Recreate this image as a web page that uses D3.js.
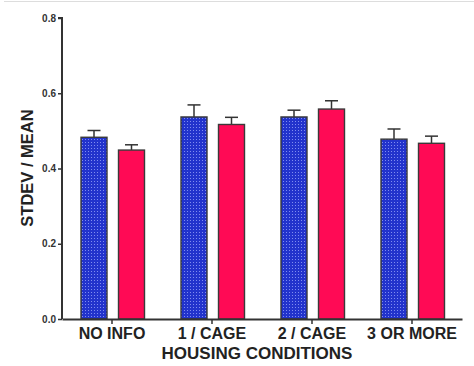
<!DOCTYPE html>
<html lang="en">
<head>
    <meta charset="UTF-8">
    <title>Housing conditions - STDEV / MEAN</title>
    <script src="https://d3js.org/d3.v7.min.js"></script>
    <style>
        body { margin: 0; background: #fff; }
        svg { display: block; font-family: "Liberation Sans", Arial, sans-serif; }
    </style>
</head>
<body>
<div id="chart"></div>
<script>
// data
var categories = ["NO INFO", "1 / CAGE", "2 / CAGE", "3 OR MORE"];
var blueMeans = [0.483, 0.537, 0.537, 0.478];
var blueErr   = [0.018, 0.032, 0.018, 0.027];
var redMeans  = [0.449, 0.517, 0.558, 0.467];
var redErr    = [0.014, 0.019, 0.022, 0.019];
var yTicks = [0.0, 0.2, 0.4, 0.6, 0.8];

var width = 474, height = 366;
var margin = {top: 18, right: 12, bottom: 47, left: 62};

var svg = d3.select("#chart").append("svg")
    .attr("width", width)
    .attr("height", height);

// dotted blue fill
var defs = svg.append("defs");
var pat = defs.append("pattern")
    .attr("id", "dots")
    .attr("width", 3).attr("height", 3)
    .attr("patternUnits", "userSpaceOnUse");
pat.append("rect").attr("width", 3).attr("height", 3).attr("fill", "#2233cc");
pat.append("rect").attr("x", 1).attr("y", 1).attr("width", 1).attr("height", 1).attr("fill", "#7f8cf0");

// faint frame line at the top
svg.append("line")
    .attr("x1", 4).attr("x2", width).attr("y1", 1.5).attr("y2", 1.5)
    .style("stroke", "#ddd");

var x = d3.scaleBand()
    .domain(categories)
    .range([margin.left, width - margin.right]);

var y = d3.scaleLinear()
    .domain([0, 0.8])
    .range([height - margin.bottom, margin.top]);

var barW = 26;
var offsets = [-18, 19.5];

var series = [
    {means: blueMeans, errs: blueErr, fill: "url(#dots)"},
    {means: redMeans, errs: redErr, fill: "#ff0a55"}
];

series.forEach(function(s, si) {
    var g = svg.append("g");
    categories.forEach(function(c, i) {
        var cx = x(c) + x.bandwidth() / 2 + offsets[si];
        var top = y(s.means[i]);
        var capY = y(s.means[i] + s.errs[i]);
        // error bar (upper only)
        g.append("line")
            .attr("x1", cx).attr("x2", cx)
            .attr("y1", top).attr("y2", capY)
            .style("stroke", "#333").style("stroke-width", 1.5);
        g.append("line")
            .attr("x1", cx - 6.5).attr("x2", cx + 6.5)
            .attr("y1", capY).attr("y2", capY)
            .style("stroke", "#333").style("stroke-width", 1.5);
        g.append("rect")
            .attr("x", cx - barW / 2)
            .attr("y", top)
            .attr("width", barW)
            .attr("height", y(0) - top)
            .attr("fill", s.fill)
            .style("stroke", "#3a3a3a")
            .style("stroke-width", 1.4);
    });
});

// axes
var yAxis = svg.append("g")
    .attr("transform", "translate(" + margin.left + ",0)")
    .call(d3.axisLeft(y).tickValues(yTicks).tickFormat(d3.format(".1f")).tickSize(4).tickPadding(2));
yAxis.select(".domain").attr("d", "M0," + y(0) + "V" + y(0.8) + "H-4").style("stroke", "#333").style("stroke-width", 2);
yAxis.selectAll(".tick line").style("stroke", "#333").style("stroke-width", 1.5);
yAxis.selectAll(".tick text")
    .style("font-size", "10px").style("font-weight", "bold").style("fill", "#333");

var xAxis = svg.append("g")
    .attr("transform", "translate(0," + y(0) + ")")
    .call(d3.axisBottom(x).tickSize(5).tickSizeOuter(0).tickPadding(4));
xAxis.select(".domain").style("stroke", "#333").style("stroke-width", 2);
xAxis.selectAll(".tick line").style("stroke", "#333").style("stroke-width", 1.5);
xAxis.selectAll(".tick text")
    .style("font-size", "16px").style("font-weight", "bold").style("fill", "#222");

// axis titles
svg.append("text")
    .attr("x", 257)
    .attr("y", 359)
    .attr("text-anchor", "middle")
    .style("font-size", "17px").style("font-weight", "bold").style("fill", "#222")
    .text("HOUSING CONDITIONS");

svg.append("text")
    .attr("transform", "translate(33," + 168 + ") rotate(-90)")
    .attr("text-anchor", "middle")
    .style("font-size", "16.5px").style("font-weight", "bold").style("fill", "#222")
    .text("STDEV / MEAN");
</script>
</body>
</html>
